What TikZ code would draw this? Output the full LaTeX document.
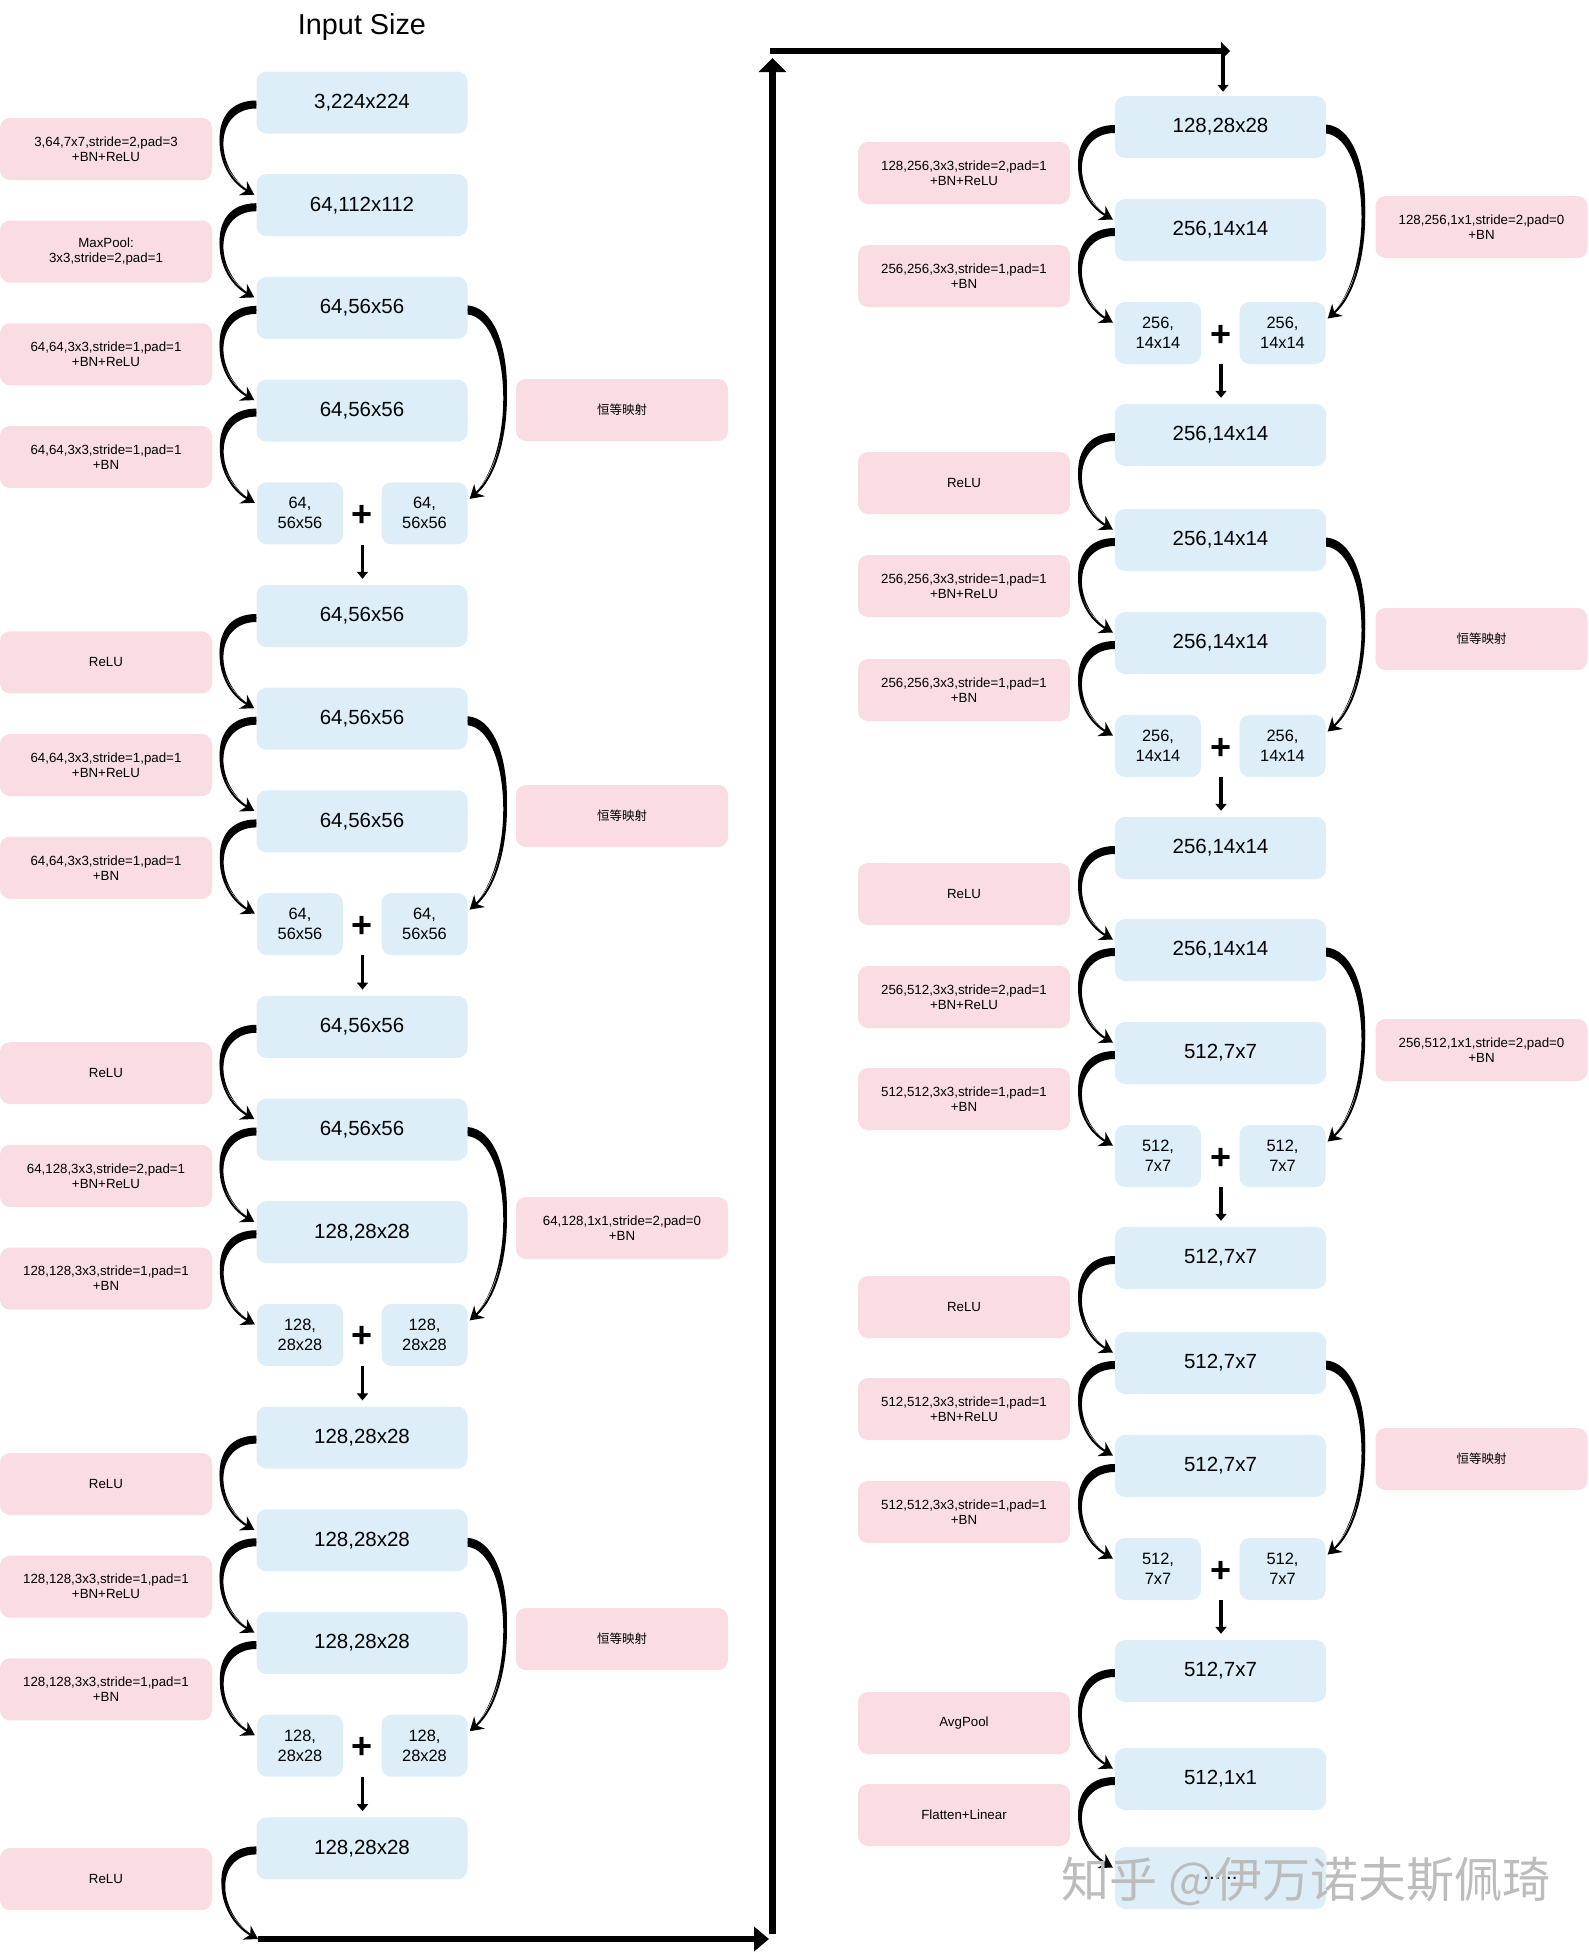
\documentclass[tikz,border=0pt]{standalone}
\usepackage{fontspec}
\setmainfont{Liberation Sans}
\newfontfamily\cjk{Noto Sans CJK SC}
\usetikzlibrary{arrows.meta,calc}
\definecolor{bluefill}{RGB}{221,238,249}
\definecolor{pinkfill}{RGB}{250,221,226}
\definecolor{wmgray}{RGB}{188,188,188}
\newcommand\fBig{\fontsize{20.5}{24}\selectfont}
\newcommand\fSmall{\fontsize{16.4}{20}\selectfont}
\newcommand\fPink{\fontsize{13.3}{15}\selectfont}
\newcommand\fCjk{\cjk\fontsize{12.5}{15}\selectfont}
\newcommand\fPlus{\fontsize{36}{40}\selectfont\bfseries}
\newcommand\fTitle{\fontsize{28.8}{32}\selectfont}
\newcommand\fWm{\cjk\fontsize{48}{52}\selectfont}
% tapered curved arrow on the left side
\newcommand\larc[2]{%
  \path #1 coordinate (s) #2 coordinate (e);
  \fill ($(s)+(0,-4)$) .. controls ($(s)+(-51,-4)$) and ($(e)+(-44,-25)$) .. (e)
        .. controls ($(e)+(-42,-24)$) and ($(s)+(-43,4)$) .. ($(s)+(0,4)$) -- cycle;
  \draw[arcline] (s) .. controls ($(s)+(-47,0)$) and ($(e)+(-43,-24.5)$) .. (e);
}
% tapered curved arrow on the right side (skip connection)
\newcommand\rarc[2]{%
  \path #1 coordinate (s) #2 coordinate (e);
  \fill ($(s)+(0,-4.5)$) .. controls ($(s)+(52,0)$) and ($(e)+(50,-44)$) .. (e)
        .. controls ($(e)+(48,-42)$) and ($(s)+(44,10)$) .. ($(s)+(0,4.5)$) -- cycle;
  \draw[arcline] (s) .. controls ($(s)+(48,5)$) and ($(e)+(49,-43)$) .. (e);
}
\newcommand\LA[2]{\larc{($(#1.west)+(0,2)$)}{($(#2.west)+(-2,-10.5)$)}}
\newcommand\RA[2]{\rarc{($(#1.east)+(0,2)$)}{($(#2.east)+(2,-14.5)$)}}
\newcommand\DA[3]{\draw[downarrow] (#1 |- #2.south) -- (#1 |- #3.north);}
\begin{document}
\begin{tikzpicture}[x=1pt,y=-1pt,
  bbox/.style={fill=bluefill, rounded corners=10pt, minimum width=211pt, minimum height=62pt, inner sep=0pt, align=center, font=\fBig},
  sbox/.style={fill=bluefill, rounded corners=10pt, minimum width=86pt, minimum height=62pt, inner sep=0pt, align=center, font=\fSmall},
  pbox/.style={fill=pinkfill, rounded corners=10pt, minimum width=212pt, minimum height=62pt, inner sep=0pt, align=center, font=\fPink},
  cbox/.style={pbox, font=\fCjk},
  plus/.style={anchor=base, inner sep=0pt, font=\fPlus},
  arcline/.style={line width=2pt, -{Stealth[length=13pt,width=16pt]}},
  downarrow/.style={line width=3.5pt, -{Triangle[length=7pt,width=11pt]}, shorten >=6pt},
]
\useasboundingbox (0,0) rectangle (1589,1952);
\fill[white] (0,0) rectangle (1589,1952);

\node[font=\fTitle, inner sep=0pt] (title) at (362,27) {Input Size};

% ---------------- left column: feature maps ----------------
\node[bbox] (L0) at (362,102.5) {3,224x224};
\node[bbox] (L1) at (362,205.2) {64,112x112};
\node[bbox] (L2) at (362,307.9) {64,56x56};
\node[bbox] (L3) at (362,410.6) {64,56x56};
\node[sbox] (L4a) at (300,513.3) {64,\\56x56};
\node[sbox] (L4b) at (424.5,513.3) {64,\\56x56};
\node[plus] (P4) at (362.5,526.3) {+};
\node[bbox] (L5) at (362,616) {64,56x56};
\node[bbox] (L6) at (362,718.7) {64,56x56};
\node[bbox] (L7) at (362,821.4) {64,56x56};
\node[sbox] (L8a) at (300,924.1) {64,\\56x56};
\node[sbox] (L8b) at (424.5,924.1) {64,\\56x56};
\node[plus] (P8) at (362.5,937.1) {+};
\node[bbox] (L9) at (362,1026.8) {64,56x56};
\node[bbox] (L10) at (362,1129.5) {64,56x56};
\node[bbox] (L11) at (362,1232.2) {128,28x28};
\node[sbox] (L12a) at (300,1334.9) {128,\\28x28};
\node[sbox] (L12b) at (424.5,1334.9) {128,\\28x28};
\node[plus] (P12) at (362.5,1347.9) {+};
\node[bbox] (L13) at (362,1437.6) {128,28x28};
\node[bbox] (L14) at (362,1540.3) {128,28x28};
\node[bbox] (L15) at (362,1643) {128,28x28};
\node[sbox] (L16a) at (300,1745.7) {128,\\28x28};
\node[sbox] (L16b) at (424.5,1745.7) {128,\\28x28};
\node[plus] (P16) at (362.5,1758.7) {+};
\node[bbox] (L17) at (362,1848.4) {128,28x28};

% left column: operation labels
\node[pbox] (la0) at (106,149) {3,64,7x7,stride=2,pad=3\\+BN+ReLU};
\node[pbox] (la1) at (106,251.6) {MaxPool:\\3x3,stride=2,pad=1};
\node[pbox] (la2) at (106,354.3) {64,64,3x3,stride=1,pad=1\\+BN+ReLU};
\node[pbox] (la3) at (106,457) {64,64,3x3,stride=1,pad=1\\+BN};
\node[pbox] (la5) at (106,662.4) {ReLU};
\node[pbox] (la6) at (106,765.1) {64,64,3x3,stride=1,pad=1\\+BN+ReLU};
\node[pbox] (la7) at (106,867.8) {64,64,3x3,stride=1,pad=1\\+BN};
\node[pbox] (la9) at (106,1073.2) {ReLU};
\node[pbox] (la10) at (106,1175.9) {64,128,3x3,stride=2,pad=1\\+BN+ReLU};
\node[pbox] (la11) at (106,1278.6) {128,128,3x3,stride=1,pad=1\\+BN};
\node[pbox] (la13) at (106,1484) {ReLU};
\node[pbox] (la14) at (106,1586.7) {128,128,3x3,stride=1,pad=1\\+BN+ReLU};
\node[pbox] (la15) at (106,1689.4) {128,128,3x3,stride=1,pad=1\\+BN};
\node[pbox] (la17) at (106,1879) {ReLU};

\node[cbox] (lr1) at (622,410) {恒等映射};
\node[cbox] (lr2) at (622,816) {恒等映射};
\node[pbox] (lr3) at (622,1228) {64,128,1x1,stride=2,pad=0\\+BN};
\node[cbox] (lr4) at (622,1639) {恒等映射};

% ---------------- right column: feature maps ----------------
\node[bbox] (R0) at (1220.5,127) {128,28x28};
\node[bbox] (R1) at (1220.5,230) {256,14x14};
\node[sbox] (R2a) at (1158,333) {256,\\14x14};
\node[sbox] (R2b) at (1282.5,333) {256,\\14x14};
\node[plus] (Q2) at (1221,346) {+};
\node[bbox] (R3) at (1220.5,435) {256,14x14};
\node[bbox] (R4) at (1220.5,540) {256,14x14};
\node[bbox] (R5) at (1220.5,643) {256,14x14};
\node[sbox] (R6a) at (1158,746) {256,\\14x14};
\node[sbox] (R6b) at (1282.5,746) {256,\\14x14};
\node[plus] (Q6) at (1221,759) {+};
\node[bbox] (R7) at (1220.5,848) {256,14x14};
\node[bbox] (R8) at (1220.5,950) {256,14x14};
\node[bbox] (R9) at (1220.5,1053) {512,7x7};
\node[sbox] (R10a) at (1158,1156) {512,\\7x7};
\node[sbox] (R10b) at (1282.5,1156) {512,\\7x7};
\node[plus] (Q10) at (1221,1169) {+};
\node[bbox] (R11) at (1220.5,1258) {512,7x7};
\node[bbox] (R12) at (1220.5,1363) {512,7x7};
\node[bbox] (R13) at (1220.5,1466) {512,7x7};
\node[sbox] (R14a) at (1158,1569) {512,\\7x7};
\node[sbox] (R14b) at (1282.5,1569) {512,\\7x7};
\node[plus] (Q14) at (1221,1582) {+};
\node[bbox] (R15) at (1220.5,1671) {512,7x7};
\node[bbox] (R16) at (1220.5,1779) {512,1x1};
\node[bbox] (R17) at (1220.5,1878) {......};

% right column: operation labels
\node[pbox] (ra0) at (964,173) {128,256,3x3,stride=2,pad=1\\+BN+ReLU};
\node[pbox] (ra1) at (964,276) {256,256,3x3,stride=1,pad=1\\+BN};
\node[pbox] (ra3) at (964,483) {ReLU};
\node[pbox] (ra4) at (964,586) {256,256,3x3,stride=1,pad=1\\+BN+ReLU};
\node[pbox] (ra5) at (964,690) {256,256,3x3,stride=1,pad=1\\+BN};
\node[pbox] (ra7) at (964,894) {ReLU};
\node[pbox] (ra8) at (964,997) {256,512,3x3,stride=2,pad=1\\+BN+ReLU};
\node[pbox] (ra9) at (964,1099) {512,512,3x3,stride=1,pad=1\\+BN};
\node[pbox] (ra11) at (964,1307) {ReLU};
\node[pbox] (ra12) at (964,1409) {512,512,3x3,stride=1,pad=1\\+BN+ReLU};
\node[pbox] (ra13) at (964,1512) {512,512,3x3,stride=1,pad=1\\+BN};
\node[pbox] (ra15) at (964,1723) {AvgPool};
\node[pbox] (ra16) at (964,1815) {Flatten+Linear};

\node[pbox] (rr1) at (1481.5,227) {128,256,1x1,stride=2,pad=0\\+BN};
\node[cbox] (rr2) at (1481.5,639) {恒等映射};
\node[pbox] (rr3) at (1481.5,1050) {256,512,1x1,stride=2,pad=0\\+BN};
\node[cbox] (rr4) at (1481.5,1459) {恒等映射};

% ---------------- connectors ----------------
\LA{L0}{L1} \LA{L1}{L2} \LA{L2}{L3} \LA{L3}{L4a}
\LA{L5}{L6} \LA{L6}{L7} \LA{L7}{L8a}
\LA{L9}{L10} \LA{L10}{L11} \LA{L11}{L12a}
\LA{L13}{L14} \LA{L14}{L15} \LA{L15}{L16a}
\RA{L2}{L4b} \RA{L6}{L8b} \RA{L10}{L12b} \RA{L14}{L16b}
\DA{P4}{L4a}{L5} \DA{P8}{L8a}{L9} \DA{P12}{L12a}{L13} \DA{P16}{L16a}{L17}

\LA{R0}{R1} \LA{R1}{R2a}
\LA{R3}{R4} \LA{R4}{R5} \LA{R5}{R6a}
\LA{R7}{R8} \LA{R8}{R9} \LA{R9}{R10a}
\LA{R11}{R12} \LA{R12}{R13} \LA{R13}{R14a}
\LA{R15}{R16} \LA{R16}{R17}
\RA{R0}{R2b} \RA{R4}{R6b} \RA{R8}{R10b} \RA{R12}{R14b}
\DA{Q2}{R2a}{R3} \DA{Q6}{R6a}{R7} \DA{Q10}{R10a}{R11} \DA{Q14}{R14a}{R15}

% loop from the bottom of the left column to the top of the right column
\coordinate (bl) at (258,1939);
\coordinate (br) at (769,1939);
\coordinate (vb) at (772.5,1934);
\coordinate (vt) at (772.5,58);
\coordinate (tl) at (769.5,51);
\coordinate (tr) at (1230,51);
\coordinate (td) at (1223,49);
\larc{($(L17.west)+(0,2)$)}{(bl)}
\draw[line width=6.5pt, -{Triangle[length=15pt,width=24pt]}] (bl) -- (br);
\draw[line width=7pt, -{Triangle[length=14pt,width=27pt]}] (vb) -- (vt);
\draw[line width=6pt, -{Triangle[length=9pt,width=18pt]}] (tl) -- (tr);
\draw[line width=3.5pt, -{Triangle[length=7pt,width=11pt]}, shorten >=4pt] (td) -- (td |- R0.north);

% watermark
\node[font=\fWm, text=wmgray, inner sep=0pt] (wm) at (1306,1881) {知乎 @伊万诺夫斯佩琦};
\end{tikzpicture}
\end{document}
